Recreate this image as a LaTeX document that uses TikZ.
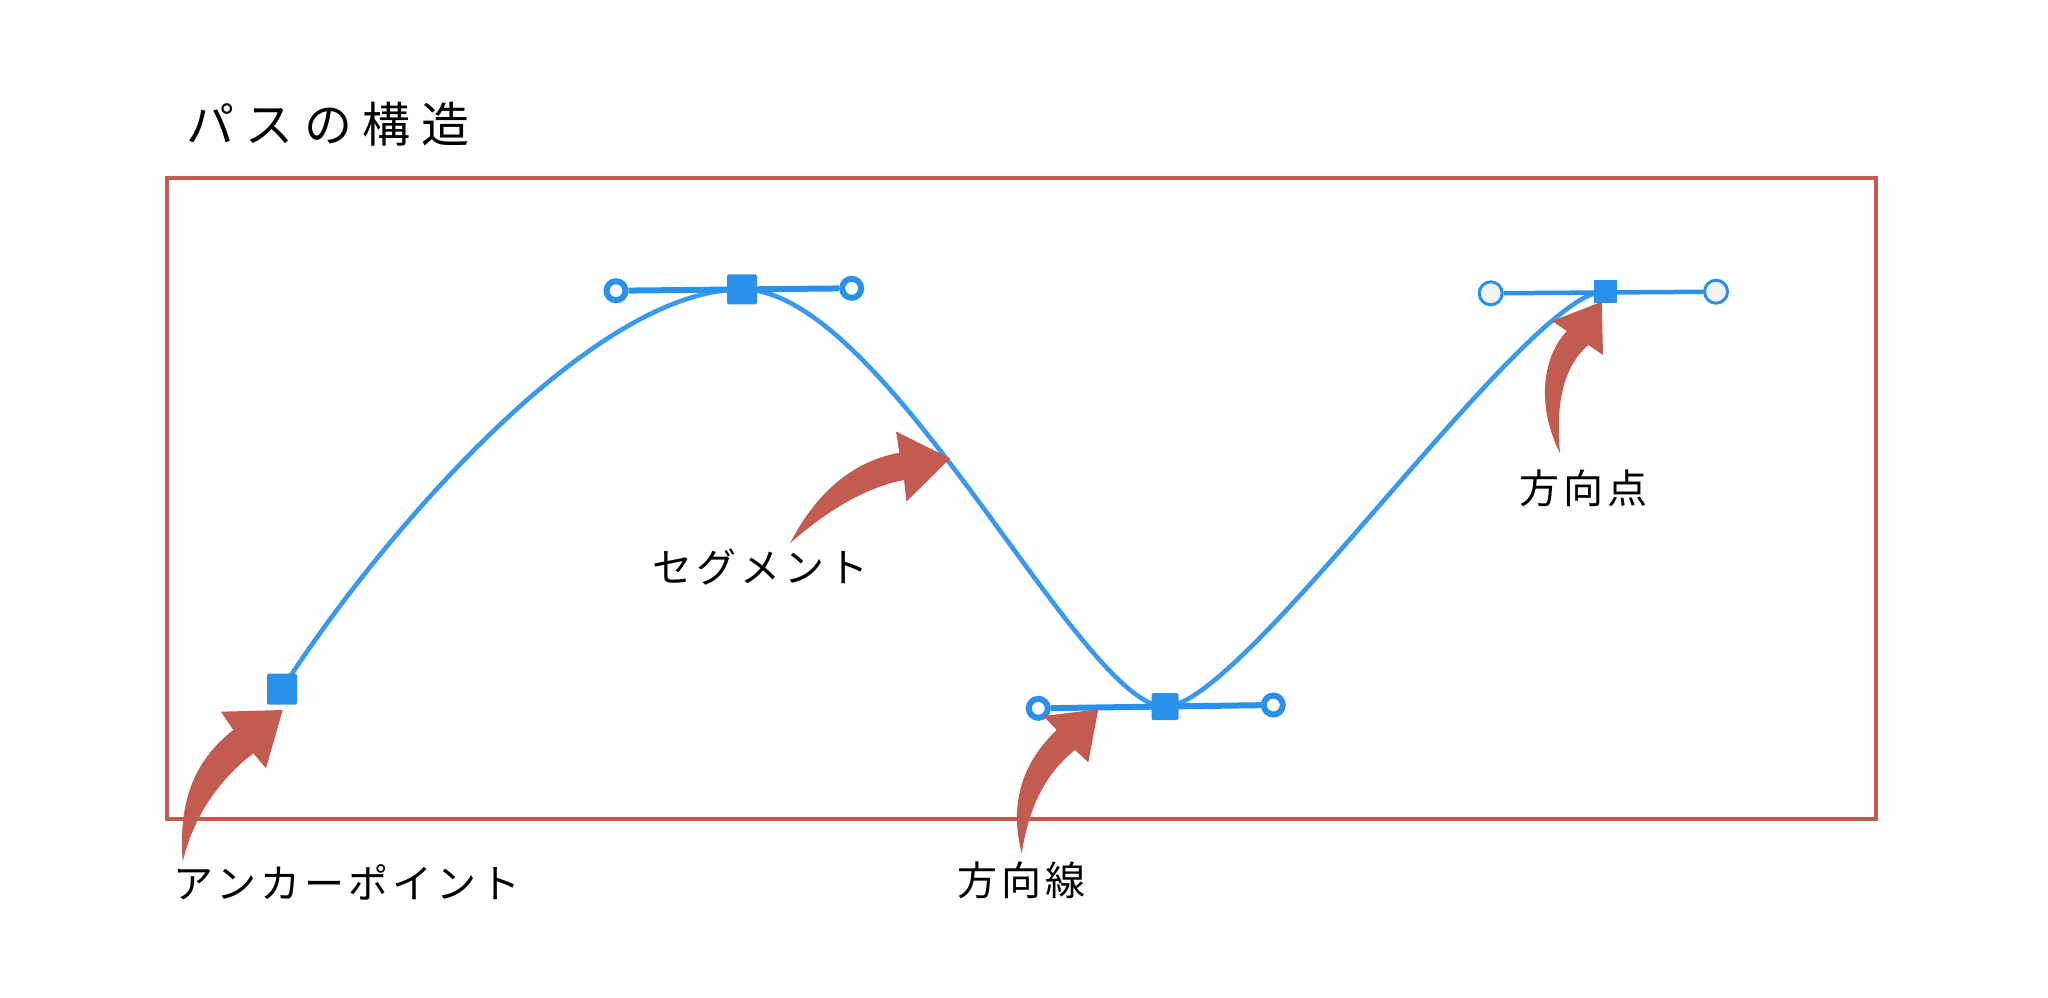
\documentclass[tikz,border=0pt]{standalone}
\usepackage{fontspec}
\usetikzlibrary{backgrounds}
\newfontfamily\jplbl[LetterSpace=10]{Noto Sans CJK JP}
\newfontfamily\jpttl[LetterSpace=22]{Noto Sans CJK JP}
\definecolor{pathblue}{RGB}{42,145,235}
\definecolor{curveblue}{RGB}{58,153,238}
\definecolor{boxred}{RGB}{194,91,80}
\definecolor{pale}{RGB}{242,242,242}
\tikzset{
  anchorsq/.style={rectangle, fill=pathblue, inner sep=0pt, rounded corners=1.5pt},
  hcirc/.style={circle, draw=pathblue, fill=white, line width=6pt, minimum size=19pt, inner sep=0pt},
  hcircthin/.style={circle, draw=pathblue, fill=pale, line width=3pt, minimum size=23pt, inner sep=0pt},
  hline/.style={draw=pathblue, line width=6pt},
  hlinethin/.style={draw=pathblue, line width=4.5pt},
  seg/.style={draw=curveblue, line width=4.6pt},
  lbl/.style={font=\jplbl\fontsize{40}{48}\selectfont, text=black, inner sep=0pt},
  ttl/.style={font=\jpttl\fontsize{48}{56}\selectfont, text=black, inner sep=0pt},
  callout/.style={fill=boxred},
}
\begin{document}
\begin{tikzpicture}[x=1pt,y=-1pt]
\useasboundingbox (0,0) rectangle (2048,997);

% title
\node[ttl] (title) at (328,124) {パスの構造};

% frame
\draw[draw=boxred, line width=4.5pt] (167,178) rectangle (1876,819);

% anchor points
\node[anchorsq, minimum width=30pt, minimum height=31pt] (a1) at (282,689) {};
\node[anchorsq, minimum size=30pt] (a2) at (742,289.3) {};
\node[anchorsq, minimum size=27pt] (a3) at (1165,706.7) {};
\node[anchorsq, minimum size=23pt, rounded corners=0pt] (a4) at (1605,291.3) {};

% direction points
\node[hcirc] (h2l) at (616,290.7) {};
\node[hcirc] (h2r) at (851.7,288.3) {};
\node[hcirc] (h3l) at (1038.3,708.3) {};
\node[hcirc] (h3r) at (1273.3,705) {};
\node[hcircthin] (h4l) at (1490.7,293.3) {};
\node[hcircthin] (h4r) at (1716,291.7) {};

\begin{scope}[on background layer]
  \fill[white] (0,0) rectangle (2048,997);
  % path segments
  \draw[seg] (a1.center) .. controls (380,536) and (592,289.3) .. (a2.center)
                         .. controls (886,289.3) and (1081,706.7) .. (a3.center)
                         .. controls (1244,706.7) and (1526,291.3) .. (a4.center);
  % direction lines
  \draw[hline] (h2l) -- (h2r);
  \draw[hline] (h3l) -- (h3r);
  \draw[hlinethin] (h4l) -- (h4r);
\end{scope}

% callout arrows
\fill[callout] (182.7,861.7) .. controls (178,800) and (195,760) .. (233.3,730)
   -- (221,711.7) -- (282.7,710) -- (266,768.3) -- (253.3,753.3)
   .. controls (225,775) and (195,810) .. (182.7,861.7) -- cycle;
\fill[callout] (790,543.3) .. controls (815,495) and (850,462) .. (899.3,452.7)
   -- (896,431.5) -- (950,458.3) -- (906.5,501.7) -- (904,480)
   .. controls (862,488) and (822,515) .. (790,543.3) -- cycle;
\fill[callout] (1021.7,853.3) .. controls (1008,800) and (1025,760) .. (1056.7,730)
   -- (1043.3,716) -- (1098.3,709.3) -- (1088.3,762.3) -- (1075,750)
   .. controls (1050,770) and (1030,800) .. (1021.7,853.3) -- cycle;
\fill[callout] (1560,453.3) .. controls (1538,410) and (1540,360) .. (1566.7,331)
   -- (1552.2,321) -- (1601.7,301.7) -- (1603,355) -- (1588.3,345)
   .. controls (1565,365) and (1555,400) .. (1560,453.3) -- cycle;

% labels
\node[lbl] (lanchor) at (347,882) {アンカーポイント};
\node[lbl] (lseg) at (760,567) {セグメント};
\node[lbl] (lline) at (1021,880) {方向線};
\node[lbl] (lpoint) at (1583,488) {方向点};
\end{tikzpicture}
\end{document}
